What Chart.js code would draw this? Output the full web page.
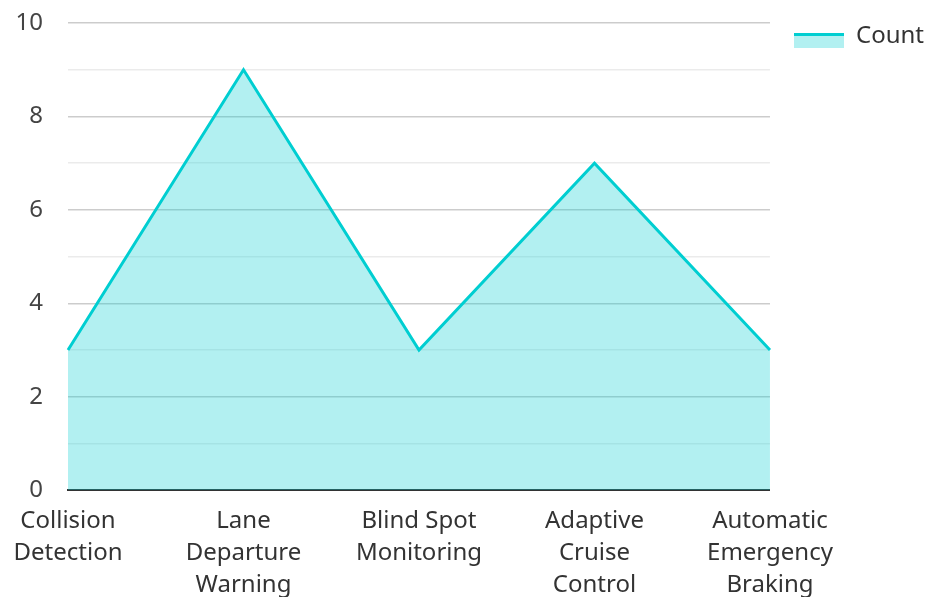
<!DOCTYPE html>
<html>
<head>
<meta charset="utf-8">
<script src="https://cdn.jsdelivr.net/npm/chart.js@4"></script>
<style>
  html, body { margin: 0; padding: 0; background: #fff; }
  #wrap { width: 928px; height: 597px; }
</style>
</head>
<body>
<div id="wrap"><canvas id="chart"></canvas></div>
<script>
const categories = [
  ['Collision', 'Detection'],
  ['Lane', 'Departure', 'Warning'],
  ['Blind Spot', 'Monitoring'],
  ['Adaptive', 'Cruise', 'Control'],
  ['Automatic', 'Emergency', 'Braking']
];
const counts = [3, 9, 3, 7, 3];
const yTicks = [0, 2, 4, 6, 8, 10];

const LINE = '#00CED1';
const AREA = 'rgba(0, 206, 209, 0.3)';

Chart.defaults.font.family = '"Noto Sans", "Open Sans", sans-serif';
Chart.defaults.color = '#333';

// legend swatch: line on top of a filled block, sitting a bit below the text centre
const swatch = document.createElement('canvas');
swatch.width = 50;
swatch.height = 30;
const sc = swatch.getContext('2d');
sc.fillStyle = AREA;
sc.fillRect(0, 12, 50, 15);
sc.fillStyle = LINE;
sc.fillRect(0, 12, 50, 3);

const ctx = document.getElementById('chart').getContext('2d');
new Chart(ctx, {
  type: 'line',
  data: {
    labels: categories,
    datasets: [{
      label: 'Count',
      data: counts,
      borderColor: LINE,
      backgroundColor: AREA,
      borderWidth: 3,
      fill: 'origin',
      tension: 0,
      pointRadius: 0,
      pointHoverRadius: 0,
      pointStyle: swatch
    }]
  },
  options: {
    responsive: true,
    maintainAspectRatio: false,
    animation: false,
    layout: { padding: { top: 0, right: -6, left: 0, bottom: 0 } },
    plugins: {
      tooltip: { enabled: false },
      legend: {
        position: 'right',
        align: 'start',
        labels: {
          usePointStyle: true,
          pointStyleWidth: 50,
          boxHeight: 15,
          padding: 24,
          color: '#333',
          font: { size: 24 }
        }
      }
    },
    scales: {
      x: {
        offset: false,
        z: 1,
        afterFit: s => {
          s.height -= 19;
          s.paddingLeft = 0;
          s.paddingRight = 0;
        },
        grid: { display: false, drawTicks: false },
        border: { display: true, color: '#333', width: 2 },
        ticks: {
          maxRotation: 0,
          autoSkip: false,
          padding: 15,
          color: '#333',
          font: { size: 24, lineHeight: 1.33 }
        }
      },
      y: {
        min: 0,
        max: 10,
        z: 1,
        border: { display: false },
        afterFit: s => {
          s.width = 68;
          s.paddingTop = 23;
          s.paddingBottom = 0;
        },
        grid: {
          drawTicks: false,
          color: c => (c.tick && yTicks.includes(c.tick.value)) ? 'rgba(0,0,0,0.2)' : 'rgba(0,0,0,0.08)',
          lineWidth: 1.5
        },
        ticks: {
          stepSize: 1,
          padding: 25,
          color: '#444',
          font: { size: 24 },
          callback: v => yTicks.includes(v) ? v : ''
        }
      }
    }
  }
});
</script>
</body>
</html>
